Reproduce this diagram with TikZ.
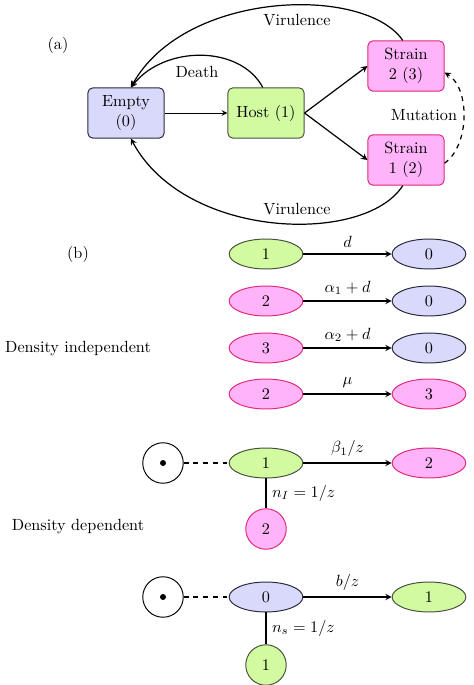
\documentclass[tikz,border=0pt]{standalone}
\usepackage{amsmath}
\usepackage{amssymb}
\usetikzlibrary{shapes, arrows, calc}
\definecolor{emptyblue}{RGB}{217,217,252}
\definecolor{hostgreen}{RGB}{210,250,160}
\definecolor{strainpink}{RGB}{255,180,250}
\definecolor{strainedge}{RGB}{225,40,120}
\definecolor{hostedge}{RGB}{70,80,60}
\definecolor{emptyedge}{RGB}{40,40,60}
\tikzset{
  box/.style={draw, rounded corners=3pt, minimum width=47pt, minimum height=31pt, align=center, semithick, inner sep=2pt},
  state/.style={draw, ellipse, minimum width=45.5pt, minimum height=18.5pt, inner sep=0pt, semithick},
  ball/.style={draw, circle, minimum size=25pt, inner sep=0pt, semithick},
  emptyst/.style={fill=emptyblue, draw=emptyedge},
  hostst/.style={fill=hostgreen, draw=hostedge},
  strainst/.style={fill=strainpink, draw=strainedge},
  flow/.style={->, >=stealth, line width=0.75pt},
}

\begin{document}
\begin{tikzpicture}[x=0.6173pt, y=-0.6173pt]
\useasboundingbox (0,0) rectangle (474,685);

% (a) the states
\node (lbla) at (58,45) {(a)};
\node[box, emptyst] (empty) at (126,113) {Empty\\(0)};
\node[box, hostst] (host) at (266,113) {Host (1)};
\node[box, strainst] (s2) at (406,66) {Strain\\2 (3)};
\node[box, strainst] (s1) at (406,160) {Strain\\1 (2)};

\draw[->, >=stealth, semithick] (empty) -- (host);
\draw[flow] (host.east) -- (s2.west);
\draw[flow] (host.east) -- (s1.west);

\draw[flow] ([xshift=-2pt]host.north) .. controls (240,45) and (165,45) .. ([xshift=3pt]empty.north);
\node (death) at (197,72) {Death};

\draw[flow] ([xshift=-2pt]s2.north) .. controls (365,-15) and (185,-10) .. ([xshift=3pt]empty.north);
\node (vir2) at (297,20) {Virulence};

\draw[flow] ([xshift=-2pt]s1.south) .. controls (365,245) and (185,240) .. ([xshift=3pt]empty.south);
\node (vir1) at (297,209) {Virulence};

\draw[flow, dashed] ([yshift=-2pt]s1.east) .. controls (470,145) and (470,88) .. ([yshift=-4pt]s2.east);
\node (mut) at (424,115) {Mutation};

% (b) density independent
\node (lblb) at (78,254) {(b)};
\node (indep) at (78,349) {Density independent};

\node[state, hostst] (d1) at (266,254) {$1$};
\node[state, emptyst] (d0) at (429,254) {$0$};
\draw[flow] (d1) -- node[above] {$d$} (d0);

\node[state, strainst] (a2) at (266,301) {$2$};
\node[state, emptyst] (a0) at (429,301) {$0$};
\draw[flow] (a2) -- node[above] {$\alpha_1+d$} (a0);

\node[state, strainst] (b3) at (266,348) {$3$};
\node[state, emptyst] (b0) at (429,348) {$0$};
\draw[flow] (b3) -- node[above] {$\alpha_2+d$} (b0);

\node[state, strainst] (m2) at (266,394) {$2$};
\node[state, strainst] (m3) at (429,394) {$3$};
\draw[flow] (m2) -- node[above] {$\mu$} (m3);

% (b) density dependent
\node (dep) at (78,527) {Density dependent};

\node[ball] (dot1) at (163,463) {};
\fill (dot1.center) circle (3);
\node[state, hostst] (inf1) at (266,463) {$1$};
\node[state, strainst] (inf2) at (429,463) {$2$};
\node[ball, strainst] (sick) at (266,529) {$2$};
\draw[line width=0.75pt, dashed] (dot1) -- (inf1);
\draw[flow] (inf1) -- node[above] {$\beta_1/z$} (inf2);
\draw[line width=0.75pt] (inf1) -- node[right] {$n_I=1/z$} (sick);

\node[ball] (dot2) at (163,597) {};
\fill (dot2.center) circle (3);
\node[state, emptyst] (bir0) at (266,597) {$0$};
\node[state, hostst] (bir1) at (429,597) {$1$};
\node[ball, hostst] (nbr) at (266,665) {$1$};
\draw[line width=0.75pt, dashed] (dot2) -- (bir0);
\draw[flow] (bir0) -- node[above] {$b/z$} (bir1);
\draw[line width=0.75pt] (bir0) -- node[right] {$n_s=1/z$} (nbr);
\end{tikzpicture}
\end{document}
